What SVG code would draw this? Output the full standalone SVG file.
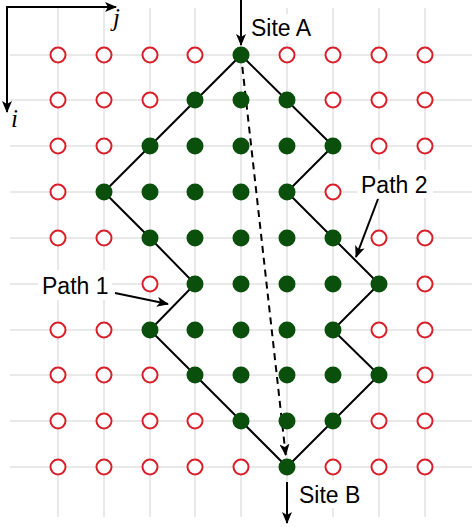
<svg xmlns="http://www.w3.org/2000/svg" width="474" height="527" viewBox="0 0 474 527">
<style>
.grid line{stroke:#e2e2e2;stroke-width:1.5}
.r{fill:#fff;stroke:#d9202a;stroke-width:2}
.g{fill:#0b4f0d;stroke:none}
.path{fill:none;stroke:#000;stroke-width:2;stroke-linejoin:miter}
.arr{stroke:#000;stroke-width:2;fill:none}
.lbl{font-family:"Liberation Sans",Arial,sans-serif;font-size:23px;fill:#000}
.ax{font-family:"Liberation Serif","Times New Roman",serif;font-style:italic;font-size:25px;fill:#000}
</style>
<defs>
<marker id="ah" viewBox="0 0 12 10" refX="11" refY="5" markerWidth="12" markerHeight="10" markerUnits="userSpaceOnUse" orient="auto">
<path d="M0,0 L12,5 L0,10 L3,5 Z" fill="#000"/>
</marker>
</defs>
<rect width="474" height="527" fill="#fff"/>
<g class="grid">
<line x1="10" y1="55" x2="472" y2="55"/>
<line x1="10" y1="100" x2="472" y2="100"/>
<line x1="10" y1="146" x2="472" y2="146"/>
<line x1="10" y1="192" x2="472" y2="192"/>
<line x1="10" y1="238" x2="472" y2="238"/>
<line x1="10" y1="284" x2="472" y2="284"/>
<line x1="10" y1="330" x2="472" y2="330"/>
<line x1="10" y1="375" x2="472" y2="375"/>
<line x1="10" y1="421" x2="472" y2="421"/>
<line x1="10" y1="467" x2="472" y2="467"/>
<line x1="58" y1="8" x2="58" y2="517"/>
<line x1="104" y1="8" x2="104" y2="517"/>
<line x1="150" y1="8" x2="150" y2="517"/>
<line x1="195" y1="8" x2="195" y2="517"/>
<line x1="241" y1="8" x2="241" y2="517"/>
<line x1="287" y1="8" x2="287" y2="517"/>
<line x1="333" y1="8" x2="333" y2="517"/>
<line x1="379" y1="8" x2="379" y2="517"/>
<line x1="425" y1="8" x2="425" y2="517"/>
</g>
<g id="label-bg" fill="#fff">
<rect x="248" y="14" width="72" height="28"/>
<rect x="38" y="270" width="74" height="30"/>
<rect x="357" y="170" width="76" height="28"/>
<rect x="296" y="480" width="72" height="28"/>
<rect x="108" y="10" width="20" height="22"/>
<rect x="9" y="106" width="16" height="24"/>
</g>
<g id="connectors">
<polyline class="path" points="241,55 104,192 150,238 195,284 150,330 241,421 287,467"/>
<polyline class="path" points="241,55 333,146 287,192 379,284 333,330 379,375 287,467"/>
<line class="arr" x1="241" y1="55" x2="285.7" y2="455" stroke-dasharray="7,5" marker-end="url(#ah)"/>
<line class="arr" x1="241" y1="0" x2="241" y2="45" marker-end="url(#ah)"/>
<line class="arr" x1="287" y1="482" x2="287" y2="523" marker-end="url(#ah)"/>
<line class="arr" x1="115" y1="293" x2="168" y2="304" marker-end="url(#ah)"/>
<line class="arr" x1="378" y1="199" x2="356" y2="257" marker-end="url(#ah)"/>
<line class="arr" x1="7" y1="7" x2="116" y2="7" marker-end="url(#ah)"/>
<line class="arr" x1="7" y1="6" x2="7" y2="112" marker-end="url(#ah)"/>
</g>
<g id="nodes">
<g id="n0-0"><circle class="r" cx="58" cy="55" r="7.5"/></g>
<g id="n0-1"><circle class="r" cx="104" cy="55" r="7.5"/></g>
<g id="n0-2"><circle class="r" cx="150" cy="55" r="7.5"/></g>
<g id="n0-3"><circle class="r" cx="195" cy="55" r="7.5"/></g>
<g id="siteA"><circle class="g" cx="241" cy="55" r="8.5"/></g>
<g id="n0-5"><circle class="r" cx="287" cy="55" r="7.5"/></g>
<g id="n0-6"><circle class="r" cx="333" cy="55" r="7.5"/></g>
<g id="n0-7"><circle class="r" cx="379" cy="55" r="7.5"/></g>
<g id="n0-8"><circle class="r" cx="425" cy="55" r="7.5"/></g>

<g id="n1-0"><circle class="r" cx="58" cy="100" r="7.5"/></g>
<g id="n1-1"><circle class="r" cx="104" cy="100" r="7.5"/></g>
<g id="n1-2"><circle class="r" cx="150" cy="100" r="7.5"/></g>
<g id="n1-3"><circle class="g" cx="195" cy="100" r="8.5"/></g>
<g id="n1-4"><circle class="g" cx="241" cy="100" r="8.5"/></g>
<g id="n1-5"><circle class="g" cx="287" cy="100" r="8.5"/></g>
<g id="n1-6"><circle class="r" cx="333" cy="100" r="7.5"/></g>
<g id="n1-7"><circle class="r" cx="379" cy="100" r="7.5"/></g>
<g id="n1-8"><circle class="r" cx="425" cy="100" r="7.5"/></g>

<g id="n2-0"><circle class="r" cx="58" cy="146" r="7.5"/></g>
<g id="n2-1"><circle class="r" cx="104" cy="146" r="7.5"/></g>
<g id="n2-2"><circle class="g" cx="150" cy="146" r="8.5"/></g>
<g id="n2-3"><circle class="g" cx="195" cy="146" r="8.5"/></g>
<g id="n2-4"><circle class="g" cx="241" cy="146" r="8.5"/></g>
<g id="n2-5"><circle class="g" cx="287" cy="146" r="8.5"/></g>
<g id="n2-6"><circle class="g" cx="333" cy="146" r="8.5"/></g>
<g id="n2-7"><circle class="r" cx="379" cy="146" r="7.5"/></g>
<g id="n2-8"><circle class="r" cx="425" cy="146" r="7.5"/></g>

<g id="n3-0"><circle class="r" cx="58" cy="192" r="7.5"/></g>
<g id="n3-1"><circle class="g" cx="104" cy="192" r="8.5"/></g>
<g id="n3-2"><circle class="g" cx="150" cy="192" r="8.5"/></g>
<g id="n3-3"><circle class="g" cx="195" cy="192" r="8.5"/></g>
<g id="n3-4"><circle class="g" cx="241" cy="192" r="8.5"/></g>
<g id="n3-5"><circle class="g" cx="287" cy="192" r="8.5"/></g>
<g id="n3-6"><circle class="r" cx="333" cy="192" r="7.5"/></g>

<g id="n4-0"><circle class="r" cx="58" cy="238" r="7.5"/></g>
<g id="n4-1"><circle class="r" cx="104" cy="238" r="7.5"/></g>
<g id="n4-2"><circle class="g" cx="150" cy="238" r="8.5"/></g>
<g id="n4-3"><circle class="g" cx="195" cy="238" r="8.5"/></g>
<g id="n4-4"><circle class="g" cx="241" cy="238" r="8.5"/></g>
<g id="n4-5"><circle class="g" cx="287" cy="238" r="8.5"/></g>
<g id="n4-6"><circle class="g" cx="333" cy="238" r="8.5"/></g>
<g id="n4-7"><circle class="r" cx="379" cy="238" r="7.5"/></g>
<g id="n4-8"><circle class="r" cx="425" cy="238" r="7.5"/></g>

<g id="n5-2"><circle class="r" cx="150" cy="284" r="7.5"/></g>
<g id="n5-3"><circle class="g" cx="195" cy="284" r="8.5"/></g>
<g id="n5-4"><circle class="g" cx="241" cy="284" r="8.5"/></g>
<g id="n5-5"><circle class="g" cx="287" cy="284" r="8.5"/></g>
<g id="n5-6"><circle class="g" cx="333" cy="284" r="8.5"/></g>
<g id="n5-7"><circle class="g" cx="379" cy="284" r="8.5"/></g>
<g id="n5-8"><circle class="r" cx="425" cy="284" r="7.5"/></g>

<g id="n6-0"><circle class="r" cx="58" cy="330" r="7.5"/></g>
<g id="n6-1"><circle class="r" cx="104" cy="330" r="7.5"/></g>
<g id="n6-2"><circle class="g" cx="150" cy="330" r="8.5"/></g>
<g id="n6-3"><circle class="g" cx="195" cy="330" r="8.5"/></g>
<g id="n6-4"><circle class="g" cx="241" cy="330" r="8.5"/></g>
<g id="n6-5"><circle class="g" cx="287" cy="330" r="8.5"/></g>
<g id="n6-6"><circle class="g" cx="333" cy="330" r="8.5"/></g>
<g id="n6-7"><circle class="r" cx="379" cy="330" r="7.5"/></g>
<g id="n6-8"><circle class="r" cx="425" cy="330" r="7.5"/></g>

<g id="n7-0"><circle class="r" cx="58" cy="375" r="7.5"/></g>
<g id="n7-1"><circle class="r" cx="104" cy="375" r="7.5"/></g>
<g id="n7-2"><circle class="r" cx="150" cy="375" r="7.5"/></g>
<g id="n7-3"><circle class="g" cx="195" cy="375" r="8.5"/></g>
<g id="n7-4"><circle class="g" cx="241" cy="375" r="8.5"/></g>
<g id="n7-5"><circle class="g" cx="287" cy="375" r="8.5"/></g>
<g id="n7-6"><circle class="g" cx="333" cy="375" r="8.5"/></g>
<g id="n7-7"><circle class="g" cx="379" cy="375" r="8.5"/></g>
<g id="n7-8"><circle class="r" cx="425" cy="375" r="7.5"/></g>

<g id="n8-0"><circle class="r" cx="58" cy="421" r="7.5"/></g>
<g id="n8-1"><circle class="r" cx="104" cy="421" r="7.5"/></g>
<g id="n8-2"><circle class="r" cx="150" cy="421" r="7.5"/></g>
<g id="n8-3"><circle class="r" cx="195" cy="421" r="7.5"/></g>
<g id="n8-4"><circle class="g" cx="241" cy="421" r="8.5"/></g>
<g id="n8-5"><circle class="g" cx="287" cy="421" r="8.5"/></g>
<g id="n8-6"><circle class="g" cx="333" cy="421" r="8.5"/></g>
<g id="n8-7"><circle class="r" cx="379" cy="421" r="7.5"/></g>
<g id="n8-8"><circle class="r" cx="425" cy="421" r="7.5"/></g>

<g id="n9-0"><circle class="r" cx="58" cy="467" r="7.5"/></g>
<g id="n9-1"><circle class="r" cx="104" cy="467" r="7.5"/></g>
<g id="n9-2"><circle class="r" cx="150" cy="467" r="7.5"/></g>
<g id="n9-3"><circle class="r" cx="195" cy="467" r="7.5"/></g>
<g id="n9-4"><circle class="r" cx="241" cy="467" r="7.5"/></g>
<g id="siteB"><circle class="g" cx="287" cy="467" r="8.5"/></g>
<g id="n9-6"><circle class="r" cx="333" cy="467" r="7.5"/></g>
<g id="n9-7"><circle class="r" cx="379" cy="467" r="7.5"/></g>
<g id="n9-8"><circle class="r" cx="425" cy="467" r="7.5"/></g>
</g>
<g id="labels">
<text class="lbl" x="251" y="36">Site A</text>
<text class="lbl" x="42" y="294">Path 1</text>
<text class="lbl" x="361" y="193">Path 2</text>
<text class="lbl" x="299" y="503">Site B</text>
<text class="ax" x="113" y="26">j</text>
<text class="ax" x="11" y="127">i</text>
</g>
</svg>
